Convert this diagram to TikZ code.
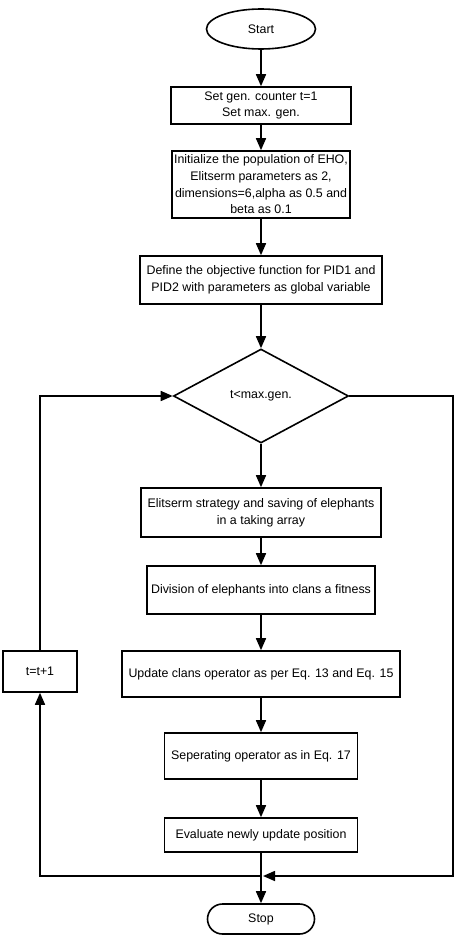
\documentclass[tikz,border=0pt]{standalone}
\usepackage{fontspec}
\setmainfont{Liberation Sans}
\usepackage{tikz}
\usetikzlibrary{shapes,arrows.meta,positioning,calc}

\begin{document}
\begin{tikzpicture}[x=1pt,y=-1pt,
  font=\fontsize{12.4}{16.7}\selectfont,
  box/.style={draw, line width=1.6pt, align=center, inner sep=0pt},
  term/.style={draw, line width=1.6pt, ellipse, inner sep=0pt},
  decide/.style={draw, line width=1.6pt, diamond, aspect=1.86, inner sep=0pt},
  arr/.style={line width=1.6pt, -{Triangle[length=12pt,width=10pt]}},
  ln/.style={line width=1.6pt}]
\useasboundingbox (0,0) rectangle (474,939);
% main column
\node[term, minimum width=109, minimum height=40] (start) at (261,29) {Start};
\node[box, minimum width=180, minimum height=37] (setgen) at (261,105.5) {Set gen. counter t=1\\Set max. gen.};
\node[box, minimum width=178, minimum height=67] (init) at (261,184.5) {Initialize the population of EHO,\\Elitserm parameters as 2,\\dimensions=6,alpha as 0.5 and\\beta as 0.1};
\node[box, minimum width=242, minimum height=48] (define) at (261,280) {Define the objective function for PID1 and\\PID2 with parameters as global variable};
\node[decide, minimum width=175, minimum height=94] (cond) at (261,396) {t<max.gen.};
\node[box, minimum width=240, minimum height=49] (elite) at (261,512.5) {Elitserm strategy and saving of elephants\\in a taking array};
\node[box, minimum width=228, minimum height=48] (divide) at (261,590) {Division of elephants into clans a fitness};
\node[box, minimum width=278, minimum height=46] (update) at (261,674) {Update clans operator as per Eq. 13 and Eq. 15};
\node[box, minimum width=193, minimum height=46] (separate) at (261,756) {Seperating operator as in Eq. 17};
\node[box, minimum width=193, minimum height=34] (evaluate) at (261,835) {Evaluate newly update position};
\node[box, rounded corners=15pt, minimum width=107, minimum height=30] (stop) at (261,919) {Stop};
% loop counter
\node[box, minimum width=74, minimum height=41] (incr) at (40,671.5) {t=t+1};
\coordinate (join) at (261,876);
\coordinate (rside) at (453,876);

\draw[arr] (start) -- (setgen);
\draw[arr] (setgen) -- (init);
\draw[arr] (init) -- (define);
\draw[arr] (define) -- (cond);
\draw[arr] (cond) -- (elite);
\draw[arr] (elite) -- (divide);
\draw[arr] (divide) -- (update);
\draw[arr] (update) -- (separate);
\draw[arr] (separate) -- (evaluate);
\draw[arr] (evaluate) -- (stop);
% loops
\draw[arr] (cond.east) -| (rside) -- ($(join)+(2,0)$);
\draw[arr] (join) -| (incr.south);
\draw[arr] (incr.north) |- (cond.west);
\end{tikzpicture}
\end{document}
